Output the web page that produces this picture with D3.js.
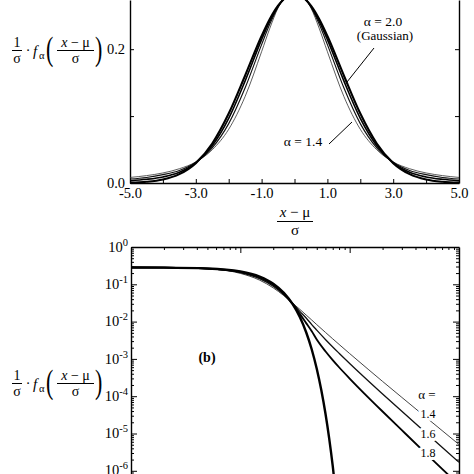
<!DOCTYPE html>
<html>
<head>
<meta charset="utf-8">
<script src="https://cdn.jsdelivr.net/npm/d3@7"></script>
<style>
  body { margin: 0; background: #fff; }
  svg { display: block; font-family: "Liberation Serif", "DejaVu Serif", serif; }
</style>
</head>
<body>
<div id="chart"></div>
<script>
// ---- data ----
// panel (a): standardised density on a linear scale
const topX = [-5, -4.5, -4, -3.5, -3, -2.5, -2, -1.5, -1, -0.75, -0.5, -0.25, 0, 0.25, 0.5, 0.75, 1, 1.5, 2, 2.5, 3, 3.5, 4, 4.5, 5];
const topA14 = [0.0083, 0.0110, 0.0150, 0.0213, 0.0314, 0.0497, 0.0803, 0.1294, 0.1963, 0.2313, 0.2618, 0.2826, 0.2901, 0.2826, 0.2618, 0.2313, 0.1963, 0.1294, 0.0803, 0.0497, 0.0314, 0.0213, 0.0150, 0.0110, 0.0083];
const topA16 = [0.0059, 0.0083, 0.0125, 0.0188, 0.0311, 0.0526, 0.0887, 0.1423, 0.2068, 0.2375, 0.2628, 0.2795, 0.2854, 0.2795, 0.2628, 0.2375, 0.2068, 0.1423, 0.0887, 0.0526, 0.0311, 0.0188, 0.0125, 0.0083, 0.0059];
const topA18 = [0.0033, 0.0055, 0.0091, 0.0161, 0.0301, 0.0558, 0.0967, 0.1526, 0.2142, 0.2418, 0.2639, 0.2781, 0.2831, 0.2781, 0.2639, 0.2418, 0.2142, 0.1526, 0.0967, 0.0558, 0.0301, 0.0161, 0.0091, 0.0055, 0.0033];
const topA20 = [0.0005, 0.0018, 0.0052, 0.0132, 0.0297, 0.0591, 0.1038, 0.1607, 0.2197, 0.2451, 0.2650, 0.2777, 0.2821, 0.2777, 0.2650, 0.2451, 0.2197, 0.1607, 0.1038, 0.0591, 0.0297, 0.0132, 0.0052, 0.0018, 0.0005];

// panel (b): same densities on log-log axes
const logX = [0.1, 0.2, 0.5, 1, 1.5, 2, 2.5, 3, 3.5, 4, 4.5, 5, 6, 7, 8, 10, 15, 20, 30, 50, 70, 100];
const logA14 = [0.2889, 0.2854, 0.2618, 0.1963, 0.1294, 0.0803, 0.0497, 0.0314, 0.0213, 0.0150, 0.0110, 0.0083, 0.00515, 0.00345, 0.00245, 0.00139, 5.06e-4, 2.49e-4, 9.3e-5, 2.7e-5, 1.2e-5, 5.07e-6];
const logA16 = [0.2845, 0.2816, 0.2628, 0.2068, 0.1423, 0.0887, 0.0526, 0.0311, 0.0188, 0.0125, 0.0083, 0.0059, 0.00332, 0.00209, 0.00142, 7.53e-4, 2.48e-4, 1.15e-4, 3.93e-5, 1.03e-5, 4.29e-6, 1.69e-6];
const logA18 = [0.2823, 0.2799, 0.2639, 0.2142, 0.1526, 0.0967, 0.0558, 0.0301, 0.0161, 0.0091, 0.0055, 0.0033, 0.0016, 9.28e-4, 5.97e-4, 2.98e-4, 8.91e-5, 3.89e-5, 1.23e-5, 2.9e-6, 1.13e-6, 4.14e-7];
const gaussX = [0.1, 0.2, 0.5, 1, 1.5, 2, 2.5, 3, 3.5, 4, 4.5, 5, 5.5, 6, 6.5, 7, 7.5, 8];
const gaussY = [0.2814, 0.2793, 0.2650, 0.2197, 0.1607, 0.1038, 0.0591, 0.0297, 0.0132, 0.00517, 0.00179, 5.44e-4, 1.46e-4, 3.48e-5, 7.28e-6, 1.35e-6, 2.2e-7, 3.2e-8];

const alphaNames = ["1.4", "1.6", "1.8", "2.0"];
const topTickLabels = [-5, -3, -1, 1, 3, 5];
const logExponents = [0, -1, -2, -3, -4, -5, -6];

// ---- layout ----
let topBox = {left: 130, right: 459, bottom: 183},
    botBox = {left: 131, right: 459, top: 247, decade: 37.3};

let lineWidth = {"1.4": 0.8, "1.6": 1.15, "1.8": 1.6, "2.0": 2.1};
let lineColor = {"1.4": "#333", "1.6": "#111", "1.8": "#000", "2.0": "#000"};

let svg = d3.select("#chart")
    .append("svg")
    .attr("width", 474)
    .attr("height", 474);

let defs = svg.append("defs");
defs.append("clipPath").attr("id", "clipA")
    .append("rect").attr("x", topBox.left).attr("y", -20)
    .attr("width", topBox.right - topBox.left).attr("height", topBox.bottom + 20);
defs.append("clipPath").attr("id", "clipB")
    .append("rect").attr("x", botBox.left).attr("y", botBox.top)
    .attr("width", botBox.right - botBox.left).attr("height", 400);

// axis styling helper
function styleAxis(g) {
    g.attr("font-family", null).attr("font-size", null);
    g.select(".domain").attr("stroke", "#000").attr("stroke-width", 1.4);
    g.selectAll(".tick line").attr("stroke", "#000").attr("stroke-width", 1);
    g.selectAll(".tick text").attr("fill", "#000").style("font-size", "14.5px");
}

// ================= panel (a) =================
let xA = d3.scaleLinear().domain([-5, 5]).range([topBox.left, topBox.right]);
let yA = d3.scaleLinear().domain([0, 0.2735]).range([topBox.bottom, 0]);

svg.append("g")
    .attr("transform", "translate(0," + topBox.bottom + ")")
    .call(d3.axisBottom(xA)
        .tickValues(d3.range(-5, 6))
        .tickFormat(d => topTickLabels.includes(d) ? d.toFixed(1) : "")
        .tickSizeInner(-4).tickSizeOuter(0).tickPadding(5))
    .call(styleAxis);

svg.append("g")
    .attr("transform", "translate(" + topBox.left + ",0)")
    .call(d3.axisLeft(yA)
        .tickValues([0, 0.1, 0.2])
        .tickFormat(d => d === 0.1 ? "" : d.toFixed(1))
        .tickSizeInner(-4).tickSizeOuter(0).tickPadding(5))
    .call(styleAxis);

svg.append("g")
    .attr("transform", "translate(" + topBox.right + ",0)")
    .call(d3.axisRight(yA)
        .tickValues([0.1, 0.2])
        .tickFormat("")
        .tickSizeInner(-4).tickSizeOuter(0))
    .call(styleAxis);

let topData = alphaNames.map((name, i) => {
    let ys = [topA14, topA16, topA18, topA20][i];
    return {name: name, values: topX.map((x, j) => ({x: x, y: ys[j]}))};
});

let lineA = d3.line()
    .x(d => xA(d.x))
    .y(d => yA(d.y))
    .curve(d3.curveMonotoneX);

svg.append("g")
    .attr("clip-path", "url(#clipA)")
    .selectAll("path")
    .data(topData)
    .enter()
    .append("path")
    .attr("d", d => lineA(d.values))
    .attr("fill", "none")
    .attr("stroke", d => lineColor[d.name])
    .attr("stroke-width", d => lineWidth[d.name]);

// annotations of panel (a)
svg.append("text").attr("x", 383).attr("y", 26).attr("text-anchor", "middle")
    .style("font-size", "13.5px").text("α = 2.0");
svg.append("text").attr("x", 385).attr("y", 40).attr("text-anchor", "middle")
    .style("font-size", "13px").text("(Gaussian)");
svg.append("line").attr("x1", 374).attr("y1", 48).attr("x2", 347).attr("y2", 82)
    .attr("stroke", "#000").attr("stroke-width", 1);
svg.append("text").attr("x", 303).attr("y", 146).attr("text-anchor", "middle")
    .style("font-size", "13.5px").text("α = 1.4");
svg.append("line").attr("x1", 329).attr("y1", 144).attr("x2", 352).attr("y2", 122)
    .attr("stroke", "#000").attr("stroke-width", 1);

// x label of panel (a)
svg.append("text").attr("x", 295).attr("y", 217).attr("text-anchor", "middle")
    .style("font-size", "15px")
    .call(t => {
        t.append("tspan").style("font-style", "italic").text("x");
        t.append("tspan").text(" − μ");
    });
svg.append("line").attr("x1", 277).attr("x2", 313).attr("y1", 221.5).attr("y2", 221.5)
    .attr("stroke", "#000").attr("stroke-width", 1);
svg.append("text").attr("x", 295).attr("y", 235).attr("text-anchor", "middle")
    .style("font-size", "15px").text("σ");

// y label:  1/σ · fα((x − μ)/σ)
function densityLabel(ox, oy) {
    let g = svg.append("g").attr("transform", "translate(" + ox + "," + oy + ")");
    g.append("text").attr("x", 5).attr("y", -3.5).attr("text-anchor", "middle").style("font-size", "14px").text("1");
    g.append("line").attr("x1", 0).attr("x2", 10).attr("y1", 0).attr("y2", 0).attr("stroke", "#000");
    g.append("text").attr("x", 5).attr("y", 12.5).attr("text-anchor", "middle").style("font-size", "14px").text("σ");
    g.append("text").attr("x", 16).attr("y", 4.5).attr("text-anchor", "middle").style("font-size", "14px").text("·");
    g.append("text").attr("x", 21).attr("y", 5.5).style("font-size", "15px").style("font-style", "italic").text("f");
    g.append("text").attr("x", 27).attr("y", 8.5).style("font-size", "10.5px").text("α");
    g.append("text").attr("transform", "translate(34,9) scale(1,1.5)").style("font-size", "22px").text("(");
    g.append("text").attr("x", 63.5).attr("y", -3.5).attr("text-anchor", "middle").style("font-size", "14px")
        .call(t => {
            t.append("tspan").style("font-style", "italic").text("x");
            t.append("tspan").text(" − μ");
        });
    g.append("line").attr("x1", 45).attr("x2", 82).attr("y1", 0).attr("y2", 0).attr("stroke", "#000");
    g.append("text").attr("x", 63.5).attr("y", 12.5).attr("text-anchor", "middle").style("font-size", "14px").text("σ");
    g.append("text").attr("transform", "translate(83,9) scale(1,1.5)").style("font-size", "22px").text(")");
}
densityLabel(12, 50.5);

// ================= panel (b) =================
let xB = d3.scaleLog().domain([0.1, 100]).range([botBox.left, botBox.right]);
let yB = d3.scaleLog().domain([1, 1e-8]).range([botBox.top, botBox.top + 8 * botBox.decade]);

let yMajor = d3.range(0, 9).map(e => Math.pow(10, -e));
let yMinor = [];
yMajor.slice(1).forEach(d => { for (let m = 2; m < 10; m++) yMinor.push(m * d); });
let xMinor = [];
[0.1, 1, 10].forEach(d => { for (let m = 2; m < 10; m++) xMinor.push(m * d); });

// left axis (major + minor ticks)
svg.append("g")
    .attr("transform", "translate(" + botBox.left + ",0)")
    .call(d3.axisLeft(yB).tickValues(yMajor).tickFormat("").tickSizeInner(-6).tickSizeOuter(0))
    .call(styleAxis);
svg.append("g")
    .attr("transform", "translate(" + botBox.left + ",0)")
    .call(d3.axisLeft(yB).tickValues(yMinor).tickFormat("").tickSizeInner(-3).tickSizeOuter(0))
    .call(styleAxis)
    .call(g => g.select(".domain").remove());

// right axis
svg.append("g")
    .attr("transform", "translate(" + botBox.right + ",0)")
    .call(d3.axisRight(yB).tickValues(yMajor).tickFormat("").tickSizeInner(-6).tickSizeOuter(0))
    .call(styleAxis);
svg.append("g")
    .attr("transform", "translate(" + botBox.right + ",0)")
    .call(d3.axisRight(yB).tickValues(yMinor).tickFormat("").tickSizeInner(-3).tickSizeOuter(0))
    .call(styleAxis)
    .call(g => g.select(".domain").remove());

// top axis
svg.append("g")
    .attr("transform", "translate(0," + botBox.top + ")")
    .call(d3.axisTop(xB).tickValues([1, 10]).tickFormat("").tickSizeInner(-6).tickSizeOuter(0))
    .call(styleAxis);
svg.append("g")
    .attr("transform", "translate(0," + botBox.top + ")")
    .call(d3.axisTop(xB).tickValues(xMinor).tickFormat("").tickSizeInner(-3).tickSizeOuter(0))
    .call(styleAxis)
    .call(g => g.select(".domain").remove());

// power-of-ten labels
svg.append("g")
    .selectAll("text")
    .data(logExponents)
    .enter()
    .append("text")
    .attr("x", botBox.left - 3)
    .attr("y", d => yB(Math.pow(10, d)))
    .attr("dy", "0.32em")
    .attr("text-anchor", "end")
    .style("font-size", "14.5px")
    .each(function (d) {
        let t = d3.select(this);
        t.append("tspan").text("10");
        t.append("tspan").attr("dy", -6).style("font-size", "10.5px").text(d === 0 ? "0" : "-" + (-d));
    });

let botData = [
    {name: "1.4", values: logX.map((x, j) => ({x: x, y: logA14[j]}))},
    {name: "1.6", values: logX.map((x, j) => ({x: x, y: logA16[j]}))},
    {name: "1.8", values: logX.map((x, j) => ({x: x, y: logA18[j]}))},
    {name: "2.0", values: gaussX.map((x, j) => ({x: x, y: gaussY[j]}))}
];

let lineB = d3.line()
    .x(d => xB(d.x))
    .y(d => yB(d.y))
    .curve(d3.curveMonotoneX);

svg.append("g")
    .attr("clip-path", "url(#clipB)")
    .selectAll("path")
    .data(botData)
    .enter()
    .append("path")
    .attr("d", d => lineB(d.values))
    .attr("fill", "none")
    .attr("stroke", d => lineColor[d.name])
    .attr("stroke-width", d => lineWidth[d.name] * 1.15);

// labels sitting in gaps of the tail lines
svg.append("text").attr("x", 427).attr("y", 399).attr("text-anchor", "middle")
    .style("font-size", "13px").text("α =");
svg.append("g")
    .selectAll("text")
    .data(alphaNames.slice(0, 3))
    .enter()
    .append("text")
    .attr("x", 428)
    .attr("y", (d, i) => 418 + i * 19.5)
    .attr("text-anchor", "middle")
    .attr("stroke", "#fff")
    .attr("stroke-width", 6)
    .attr("paint-order", "stroke")
    .style("font-size", "12px")
    .text(d => d);

svg.append("text").attr("x", 207).attr("y", 362).attr("text-anchor", "middle")
    .style("font-size", "14px").style("font-weight", "bold").text("(b)");

densityLabel(12, 383.5);
</script>
</body>
</html>
